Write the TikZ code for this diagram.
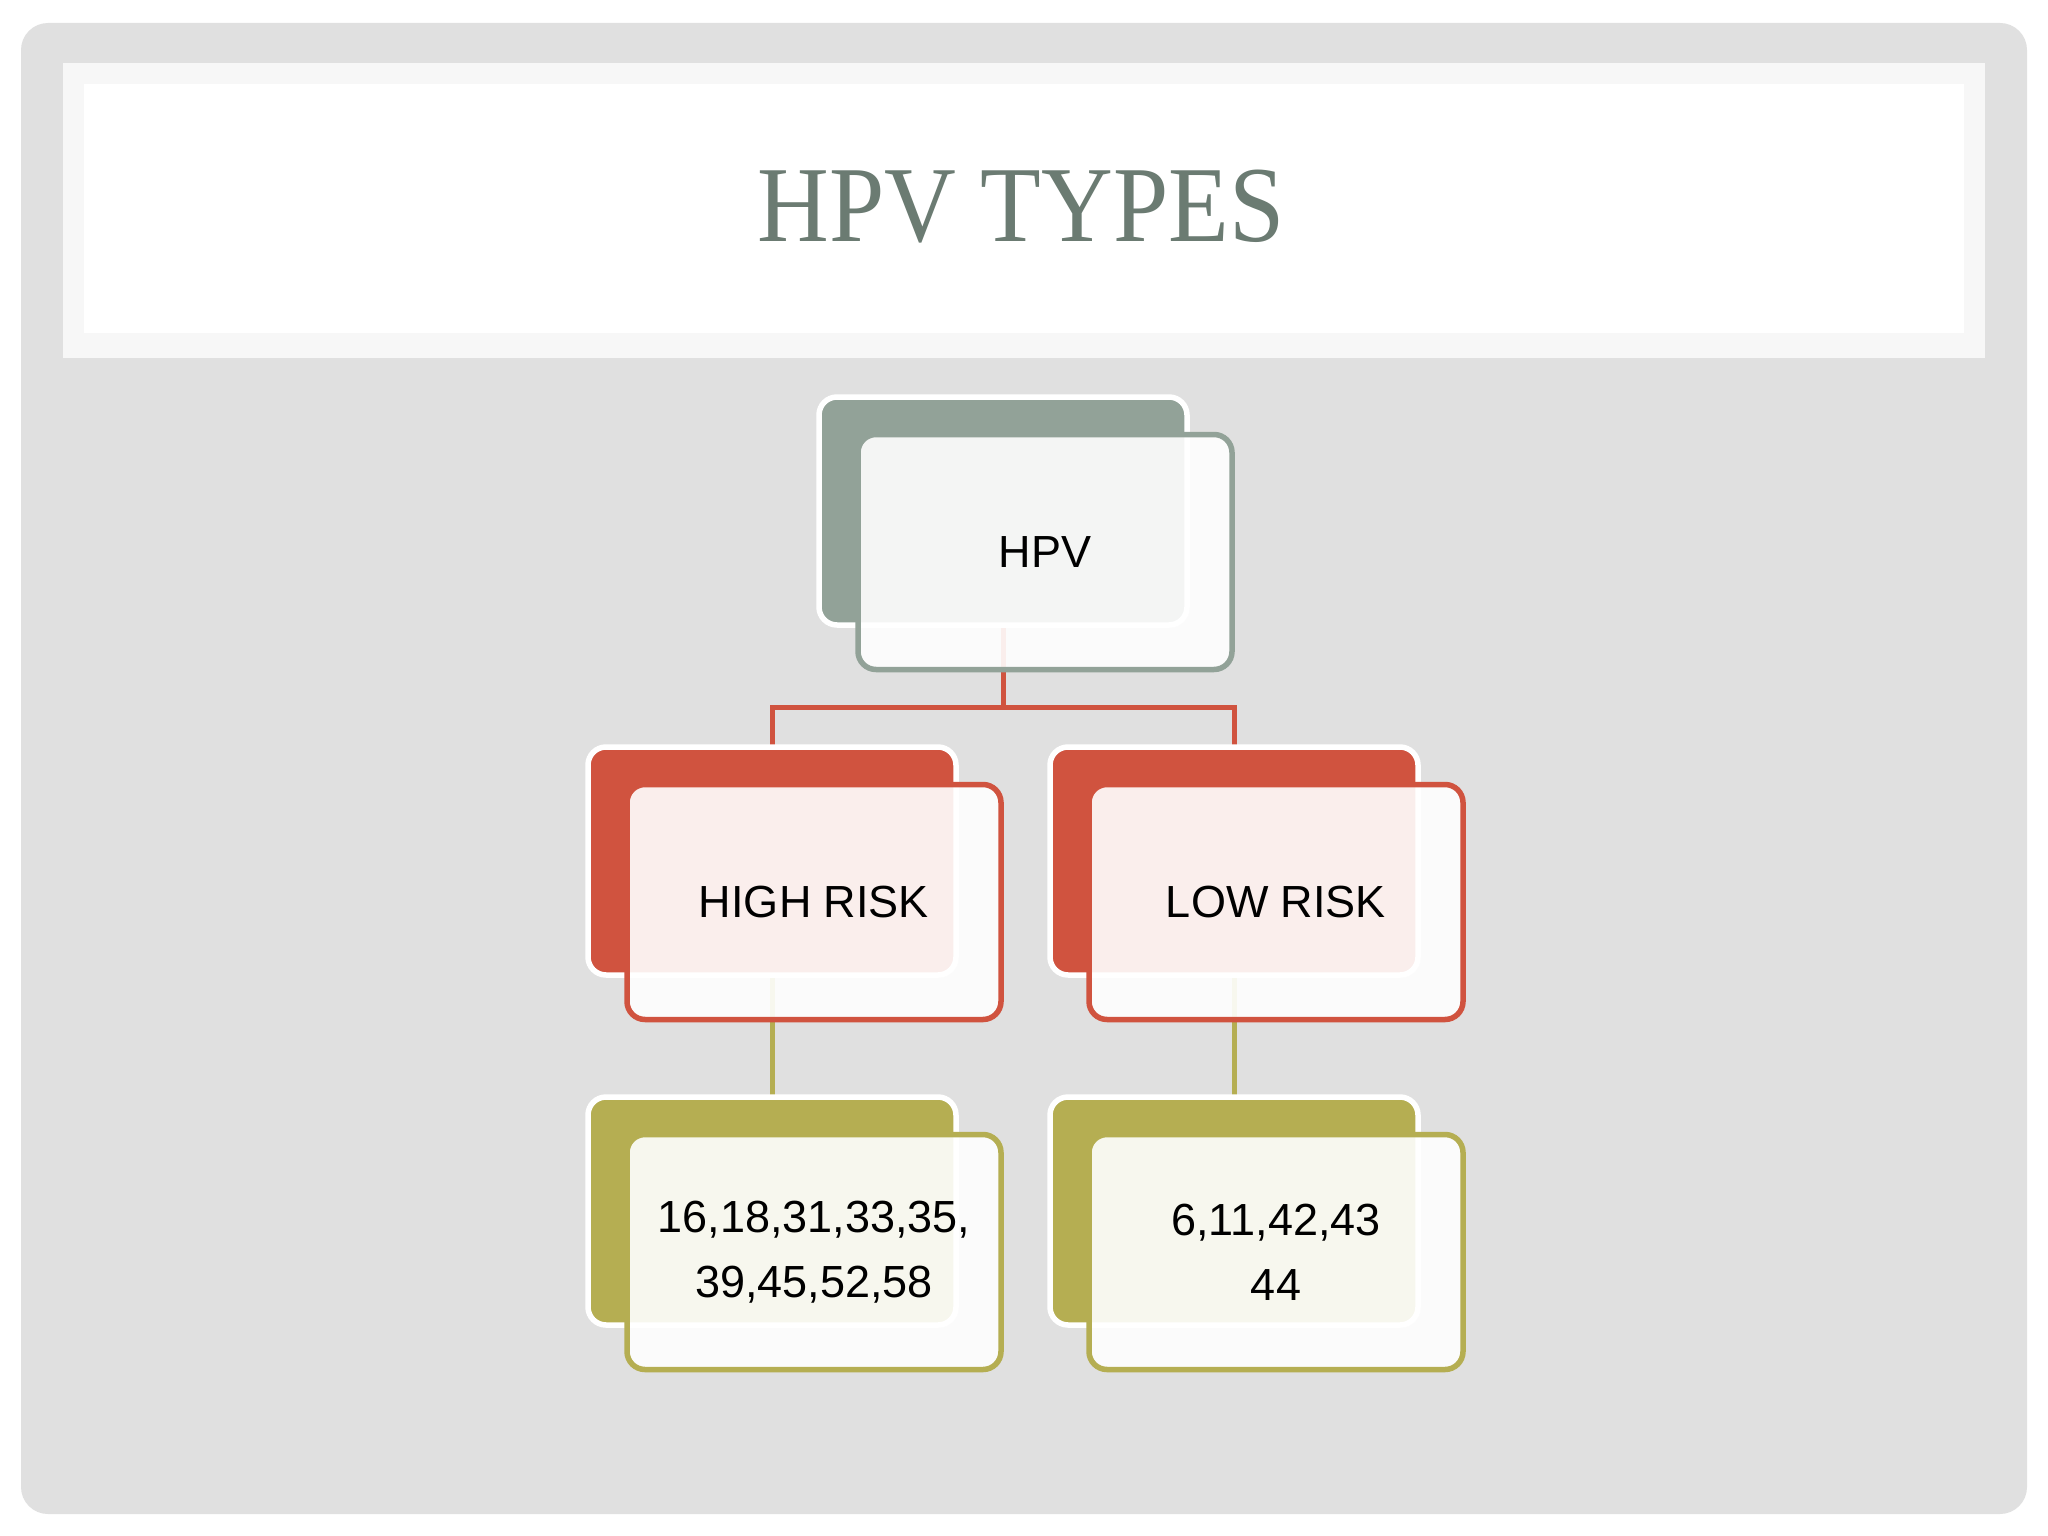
\documentclass[tikz,border=0pt]{standalone}
\usepackage{fontspec}
\setmainfont{Liberation Sans}
\newfontfamily\titlefont{Liberation Serif}
\usetikzlibrary{positioning,backgrounds}
\definecolor{hpvgreen}{HTML}{92A298}
\definecolor{riskred}{HTML}{D0533F}
\definecolor{typeolive}{HTML}{B5AE52}
\definecolor{titlegray}{HTML}{6B7B72}
\definecolor{slidegray}{HTML}{E0E0E0}
\tikzset{
	backbox/.style={
		rectangle,
		rounded corners=18pt,
		draw=white, line width=5.5pt,
		fill=#1,
		minimum width=368pt,
		minimum height=228pt,
	},
	frontbox/.style={
		rectangle,
		rounded corners=18pt,
		draw=#1, line width=5.5pt,
		fill=white, fill opacity=0.9, text opacity=1,
		minimum width=374pt,
		minimum height=235pt,
		align=center,
		font=\fontsize{45}{65}\selectfont,
	},
	link/.style={draw=#1, line width=5pt},
}

\begin{document}
\begin{tikzpicture}[x=1pt, y=-1pt, node distance=350pt and 231pt, on grid]
\begin{scope}[on background layer]
\useasboundingbox (0,0) rectangle (2048,1536);
\fill[white] (0,0) rectangle (2048,1536);
\fill[slidegray, rounded corners=27pt] (21,23) rectangle (2027,1514);
\fill[white!75!slidegray] (63,63) rectangle (1985,358);
\fill[white] (84,84) rectangle (1964,333);
\end{scope}
\node	(title)	at (1021,207)	[text=titlegray, font=\titlefont\fontsize{108}{116}\selectfont]	{\scalebox{0.92}[1]{HPV TYPES}};

% back boxes
\node	(hpvb)	at (1003,511)	[backbox=hpvgreen]	{};
\node	(highb)		[backbox=riskred]	[below left=of hpvb]	{};
\node	(lowb)		[backbox=riskred]	[below right=of hpvb]	{};
\node	(hightypesb)	[backbox=typeolive]	[below=of highb]	{};
\node	(lowtypesb)	[backbox=typeolive]	[below=of lowb]	{};

% front boxes
\node	(hpv)		[frontbox=hpvgreen]	[below right=41pt and 42pt of hpvb]	{HPV};
\node	(high)		[frontbox=riskred]	[below right=41pt and 42pt of highb]	{HIGH RISK};
\node	(low)		[frontbox=riskred]	[below right=41pt and 42pt of lowb]	{LOW RISK};
\node	(hightypes)	[frontbox=typeolive]	[below right=41pt and 42pt of hightypesb]	{16,18,31,33,35,\\39,45,52,58};
\node	(lowtypes)	[frontbox=typeolive]	[below right=41pt and 42pt of lowtypesb]	{6,11,42,43\\44};

\begin{scope}[on background layer]
\draw[link=riskred] (hpvb.center) -- ++(0,196) -| (highb.center);
\draw[link=riskred] (hpvb.center) -- ++(0,196) -| (lowb.center);
\draw[link=typeolive] (highb.center) -- (hightypesb.center);
\draw[link=typeolive] (lowb.center) -- (lowtypesb.center);
\end{scope}
\end{tikzpicture}
\end{document}
